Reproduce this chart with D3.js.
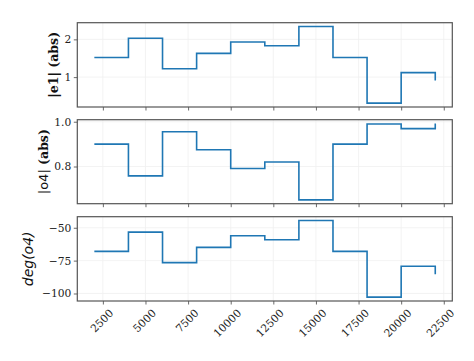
<!DOCTYPE html>
<html>
<head>
<meta charset="utf-8">
<script src="https://cdn.jsdelivr.net/npm/d3@7"></script>
<style>
  body { margin: 0; background: #fff; }
  svg { display: block; }
  .tick text { font-family: "DejaVu Serif", serif; font-size: 10.7px; fill: #222; }
</style>
</head>
<body>
<div id="chart"></div>
<script>
// step positions (iteration) and the value of each panel at each step
var steps = [2000, 4000, 6000, 8000, 10000, 12000, 14000, 16000, 18000, 20000, 22000];
var e1Abs = [1.52, 2.03, 1.22, 1.63, 1.93, 1.83, 2.34, 1.52, 0.31, 1.12, 0.91];
var o4Abs = [0.900, 0.758, 0.955, 0.875, 0.791, 0.820, 0.651, 0.900, 0.990, 0.969, 0.992];
var o4Deg = [-68.0, -53.3, -76.5, -64.9, -56.1, -59.1, -44.5, -68.0, -102.8, -79.3, -85.4];

var xTicks = [2500, 5000, 7500, 10000, 12500, 15000, 17500, 20000, 22500];
var e1Ticks = [1, 2];
var o4AbsTicks = [0.8, 1.0];
var o4DegTicks = [-100, -75, -50];

var width = 474, height = 361;
var left = 77.3, right = 452.3;

var svg = d3.select("#chart").append("svg")
    .attr("width", width)
    .attr("height", height);

var xScale = d3.scaleLinear()
    .domain([1000, 23000])
    .range([left, right]);

// pad the y domain 5% like matplotlib does
function padded(vals) {
    var ext = d3.extent(vals);
    var m = (ext[1] - ext[0]) * 0.05;
    return [ext[0] - m, ext[1] + m];
}

var panels = [
    { top: 22.7, bottom: 107, values: e1Abs, ticks: e1Ticks, fmt: d3.format("d"), label: "e1", labelX: 58 },
    { top: 119.7, bottom: 203.7, values: o4Abs, ticks: o4AbsTicks, fmt: d3.format(".1f"), label: "o4abs", labelX: 47.5 },
    { top: 216.7, bottom: 301, values: o4Deg, ticks: o4DegTicks, fmt: function (d) { return d3.format("d")(d).replace("-", "\u2212"); }, label: "deg", labelX: 33 }
];

panels.forEach(function (p, i) {
    var yScale = d3.scaleLinear()
        .domain(padded(p.values))
        .range([p.bottom, p.top]);

    var g = svg.append("g");

    // faint grid
    g.append("g").selectAll("line")
        .data(xTicks)
        .enter().append("line")
        .attr("x1", d => xScale(d)).attr("x2", d => xScale(d))
        .attr("y1", p.top).attr("y2", p.bottom)
        .attr("stroke", "#f0f0f0").attr("stroke-width", 0.8);
    g.append("g").selectAll("line")
        .data(p.ticks)
        .enter().append("line")
        .attr("x1", left).attr("x2", right)
        .attr("y1", d => yScale(d)).attr("y2", d => yScale(d))
        .attr("stroke", "#f0f0f0").attr("stroke-width", 0.8);

    // step line (steps-post)
    var line = d3.line()
        .x(d => xScale(d[0]))
        .y(d => yScale(d[1]))
        .curve(d3.curveStepAfter);

    g.append("path")
        .datum(steps.map((s, k) => [s, p.values[k]]))
        .attr("fill", "none")
        .attr("stroke", "#1f77b4")
        .attr("stroke-width", 1.6)
        .attr("d", line);

    // x axis
    var xAxis = g.append("g")
        .attr("transform", "translate(0," + p.bottom + ")")
        .call(d3.axisBottom(xScale).tickValues(xTicks).tickSize(3.5).tickSizeOuter(0)
            .tickFormat(i == 2 ? d3.format("d") : ""));
    xAxis.select(".domain").remove();
    xAxis.selectAll(".tick line").attr("stroke", "#444").attr("stroke-width", 0.8);
    if (i == 2) {
        xAxis.selectAll(".tick text")
            .attr("text-anchor", "end")
            .attr("transform", "translate(3,5) rotate(-45)")
            .attr("dy", "0.7em")
            .attr("y", 3.5)
            .attr("x", 0);
    }

    // y axis
    var yAxis = g.append("g")
        .attr("transform", "translate(" + left + ",0)")
        .call(d3.axisLeft(yScale).tickValues(p.ticks).tickSize(3.5).tickSizeOuter(0).tickFormat(p.fmt));
    yAxis.select(".domain").remove();
    yAxis.selectAll(".tick line").attr("stroke", "#444").attr("stroke-width", 0.8);
    yAxis.selectAll(".tick text").attr("x", -6);

    // frame
    g.append("rect")
        .attr("x", left).attr("y", p.top)
        .attr("width", right - left).attr("height", p.bottom - p.top)
        .attr("fill", "none")
        .attr("stroke", "#555")
        .attr("stroke-width", 1.2);

    // y label
    var cy = (p.top + p.bottom) / 2;
    var t = svg.append("text")
        .attr("transform", "translate(" + p.labelX + "," + cy + ") rotate(-90)")
        .attr("text-anchor", "middle")
        .attr("fill", "#111");
    if (p.label == "e1") {
        t.attr("font-family", "DejaVu Serif").attr("font-weight", "bold").attr("font-size", "12.5px")
            .text("|e1| (abs)");
    } else if (p.label == "o4abs") {
        t.append("tspan").attr("font-family", "DejaVu Sans").attr("font-size", "13px").text("|o4|");
        t.append("tspan").attr("font-family", "DejaVu Serif").attr("font-weight", "bold").attr("font-size", "12.5px").text(" (abs)");
    } else {
        t.attr("font-family", "DejaVu Sans").attr("font-style", "italic").attr("font-size", "14px")
            .text("deg(o4)");
    }
});
</script>
</body>
</html>
